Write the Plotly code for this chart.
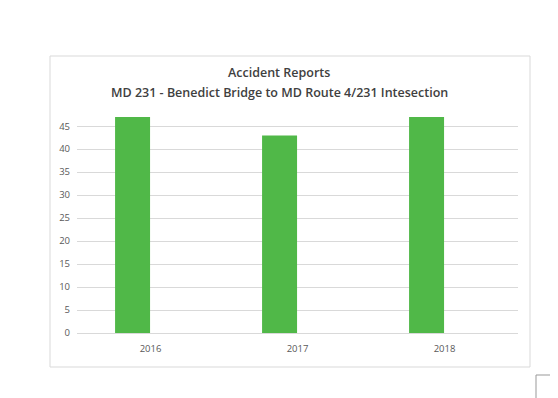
import plotly.graph_objects as go

years = ["2016", "2017", "2018"]
reports = [47, 43, 47]
y_ticks = [0, 5, 10, 15, 20, 25, 30, 35, 40, 45]
title_line1 = "Accident Reports"
title_line2 = "MD 231 - Benedict Bridge to MD Route 4/231 Intesection"

OFF = 8  # page body margin
L, R, T, B = 77 - OFF, 518 - OFF, 117 - OFF, 333 - OFF
W, H = 558, 398

def px(x):
    return (x - OFF - L) / (R - L)

def py(y):
    return (B - (y - OFF)) / (B - T)

fig = go.Figure(go.Bar(x=years, y=reports, marker_color="#50b848",
                       marker_line_width=0, width=0.238, offset=-0.241))

fig.update_layout(
    width=W, height=H,
    margin=dict(l=L, r=W - R, t=T, b=H - B),
    paper_bgcolor="white", plot_bgcolor="white",
    showlegend=False,
    font=dict(family="Open Sans, sans-serif", color="#595959"),
    xaxis=dict(showgrid=False, showline=False, ticks="", tickfont=dict(size=9.5),
               ticklabelstandoff=8),
    yaxis=dict(range=[0, 47], tickvals=y_ticks, showgrid=True, gridcolor="#d9d9d9",
               gridwidth=1, zeroline=True, zerolinecolor="#d9d9d9", zerolinewidth=1,
               showline=False, ticks="", tickfont=dict(size=9.5), ticklabelstandoff=6),
    shapes=[
        dict(type="rect", xref="paper", yref="paper", x0=px(50), x1=px(530),
             y0=py(367), y1=py(56), line=dict(color="#d9d9d9", width=1), layer="below"),
        dict(type="line", xref="paper", yref="paper", x0=px(536), x1=px(536),
             y0=py(375), y1=py(398), line=dict(color="#999999", width=1)),
        dict(type="line", xref="paper", yref="paper", x0=px(536), x1=px(558),
             y0=py(375), y1=py(375), line=dict(color="#999999", width=1)),
    ],
    annotations=[
        dict(text=title_line1, xref="paper", yref="paper",
             x=px(279), y=py(72), showarrow=False, xanchor="center", yanchor="middle",
             font=dict(size=12.5, color="#404040", weight=600)),
        dict(text=title_line2, xref="paper", yref="paper",
             x=px(279), y=py(93), showarrow=False, xanchor="center", yanchor="middle",
             font=dict(size=12.5, color="#404040", weight=600)),
    ],
)

fig.write_html("out.html")
